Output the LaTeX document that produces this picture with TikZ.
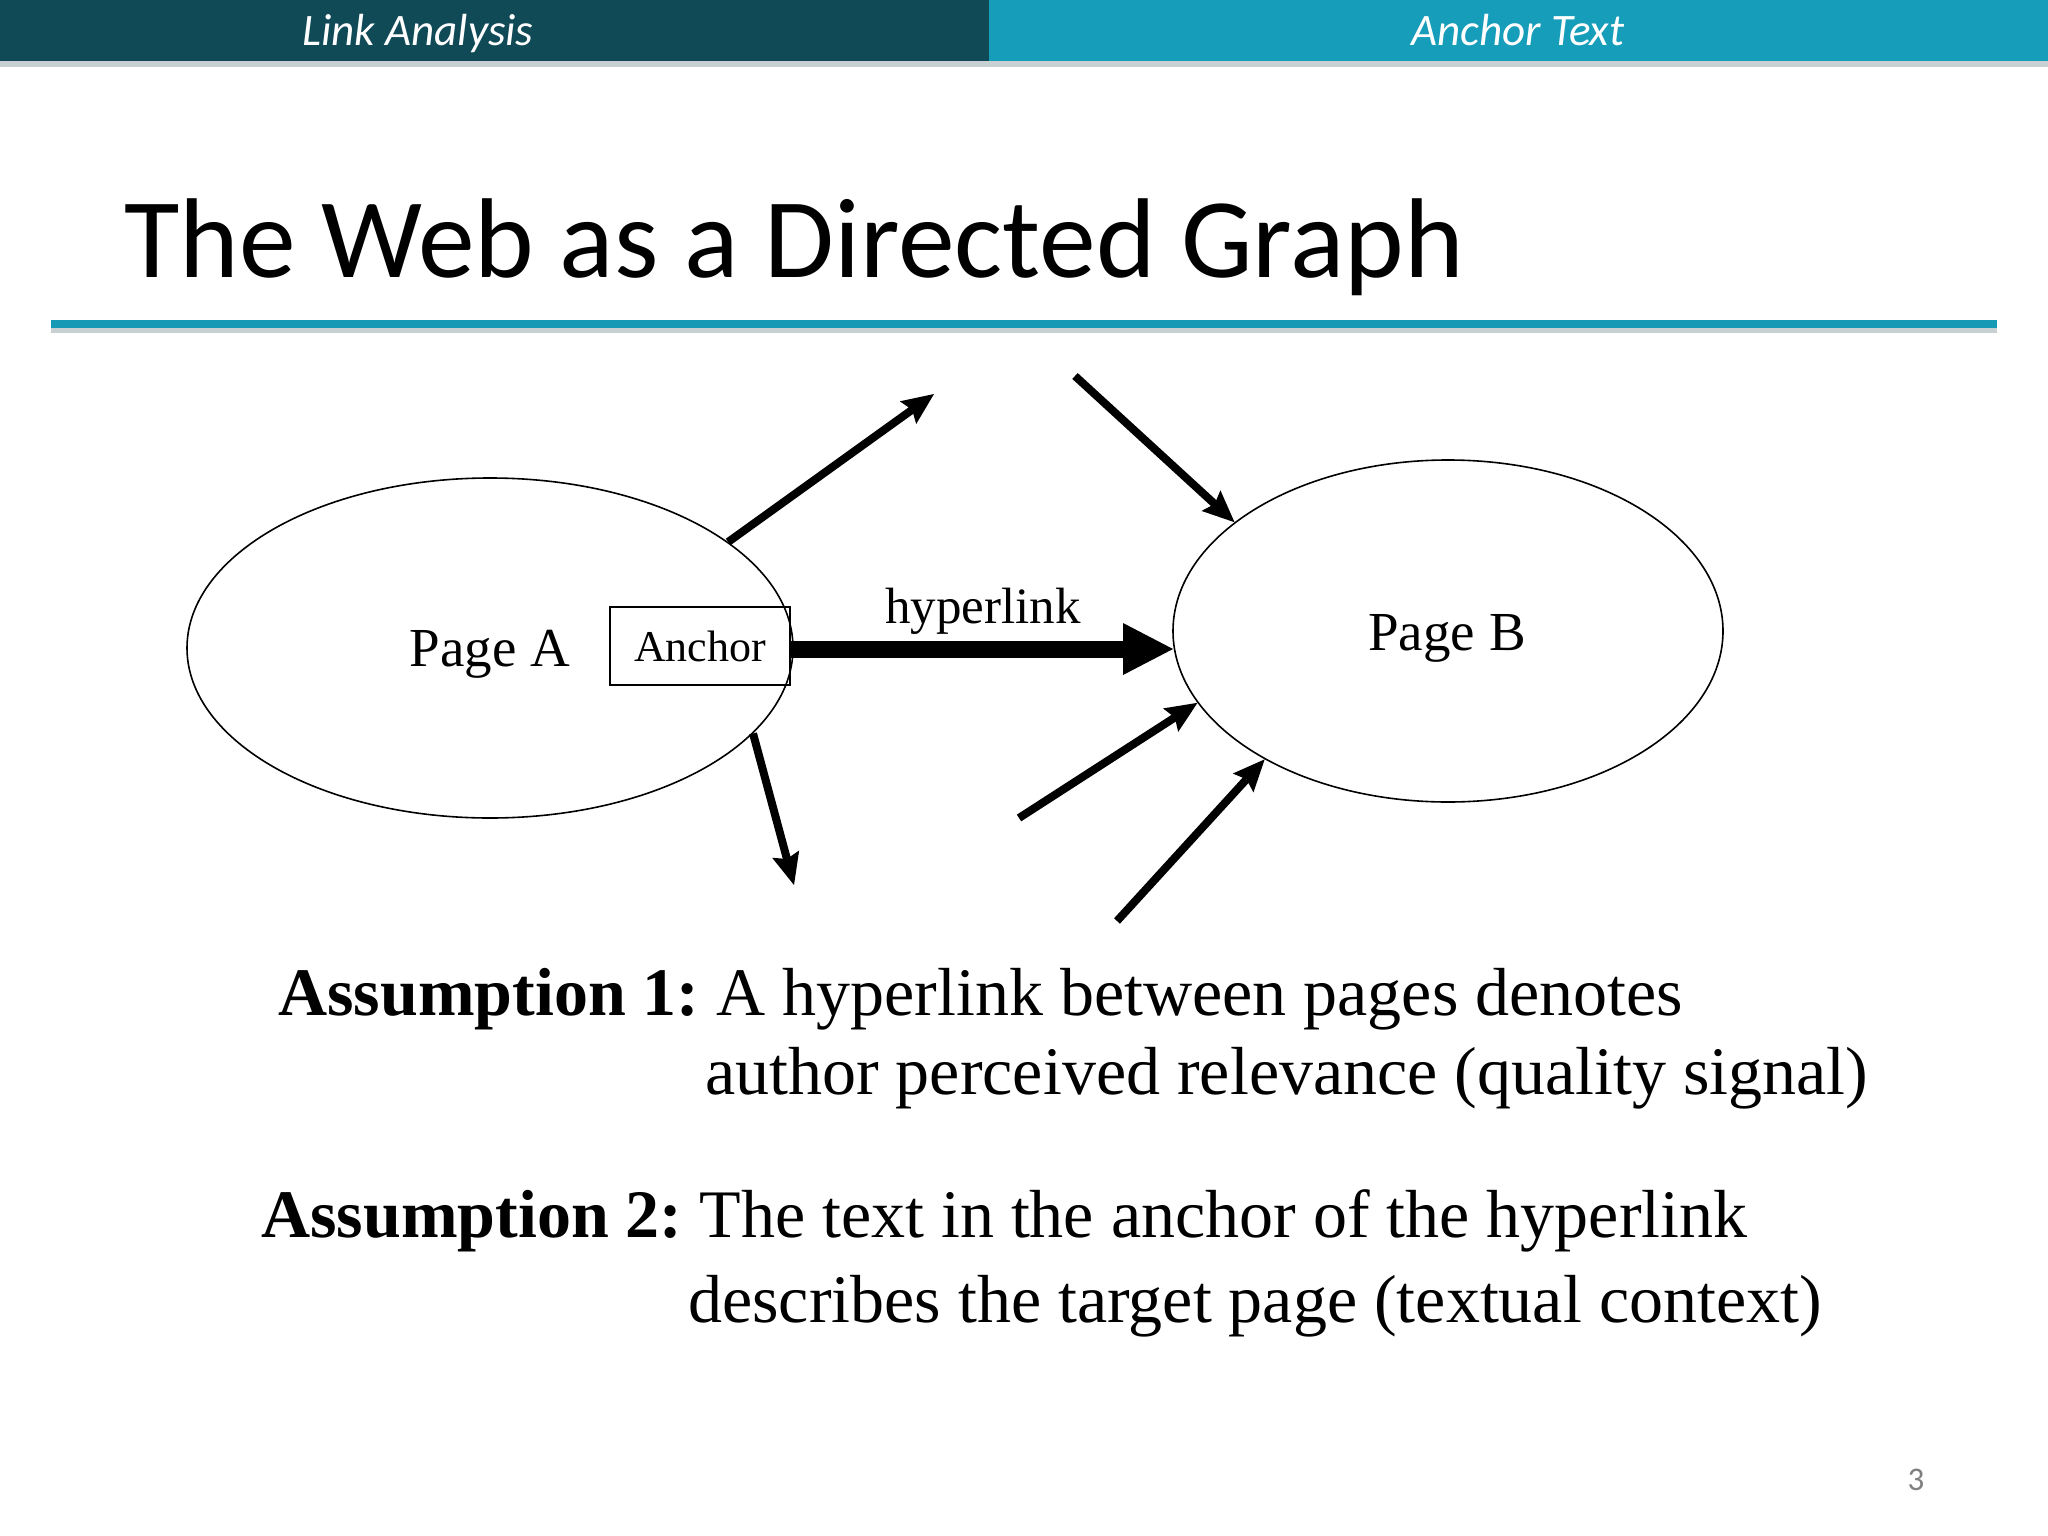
\documentclass[tikz,border=0pt]{standalone}
\usepackage{fontspec}
\setmainfont{Liberation Serif}
\newfontfamily\carlito{Carlito}
\usetikzlibrary{arrows.meta,shapes.geometric}
\definecolor{hdark}{HTML}{0F4A56}
\definecolor{hlight}{HTML}{159DB9}
\definecolor{rulecol}{HTML}{1699B5}
\definecolor{shadowcol}{HTML}{C9D0D3}
\frenchspacing
\tikzset{
  page/.style={draw=black, ellipse, line width=1.6pt, inner sep=0pt},
  hdrtext/.style={anchor=base, inner sep=0pt, text=white, font=\carlito\itshape\fontsize{45}{54}\selectfont},
  serif/.style={font=\fontsize{55}{66}\selectfont},
  linktip/.style={-{Stealth[length=32pt,width=28pt,inset=5pt,line width=0pt]}, line width=8pt},
  bigtip/.style={-{Triangle[length=50pt,width=52pt,line width=0pt]}, line width=17pt},
  body/.style={anchor=base west, inner sep=0pt, font=\fontsize{68}{80}\selectfont},
}
\begin{document}
\begin{tikzpicture}[x=1pt,y=-1pt]
\useasboundingbox (0,0) rectangle (2048,1536);
\fill[white] (0,0) rectangle (2048,1536);
% header
\fill[hdark] (0,0) rectangle (989,61);
\fill[hlight] (989,0) rectangle (2048,61);
\fill[shadowcol] (0,61) rectangle (2048,67);
\node[hdrtext] (h1) at (418,46) {Link Analysis};
\node[hdrtext] (h2) at (1518,46) {Anchor Text};
% title
\node[anchor=base west, inner sep=0pt, font=\carlito\fontsize{113.5}{136}\selectfont] (title) at (124,277) {The Web as a Directed Graph};
\fill[rulecol] (51,320) rectangle (1997,328);
\fill[shadowcol] (51,328) rectangle (1997,333);
% pages
\node[page, minimum width=606pt, minimum height=340pt] (ellA) at (490,648) {};
\node[page, minimum width=550pt, minimum height=342pt] (ellB) at (1448,631) {};
\node[serif] (pa) at (490,654) {Page A};
\node[serif] (pb) at (1447,638) {Page B};
\node[draw=black, line width=2pt, minimum width=180pt, minimum height=78pt, inner sep=0pt, font=\fontsize{44}{53}\selectfont] (anchor) at (700,646) {Anchor};
% hyperlink
\coordinate (hl) at (1173,649);
\draw[bigtip] (anchor.east |- hl) -- (hl);
\node[anchor=base, inner sep=0pt, font=\fontsize{51}{61}\selectfont] (hltext) at (983,623) {hyperlink};
% other links
\coordinate (p1) at (934,394);
\coordinate (p2) at (1075,376);
\coordinate (p3) at (794,885);
\coordinate (p4) at (1019,818);
\coordinate (p5) at (1117,921);
\draw[linktip] (ellA.24) -- (p1);
\draw[linktip] (ellA.-18) -- (p3);
\draw[linktip] (p2) -- (ellB.153);
\draw[linktip] (p4) -- (ellB.196);
\draw[linktip] (p5) -- (ellB.215);
% assumptions
\node[body] (a1a) at (278,1015) {\textbf{Assumption 1:} A hyperlink between pages denotes};
\node[body] (a1b) at (705,1094) {author perceived relevance (quality signal)};
\node[body] (a2a) at (261,1237) {\textbf{Assumption 2:} The text in the anchor of the hyperlink};
\node[body] (a2b) at (688,1322) {describes the target page (textual context)};
% page number
\node[text=gray, font=\carlito\fontsize{33}{40}\selectfont] (pn) at (1916,1480) {3};
\end{tikzpicture}
\end{document}
